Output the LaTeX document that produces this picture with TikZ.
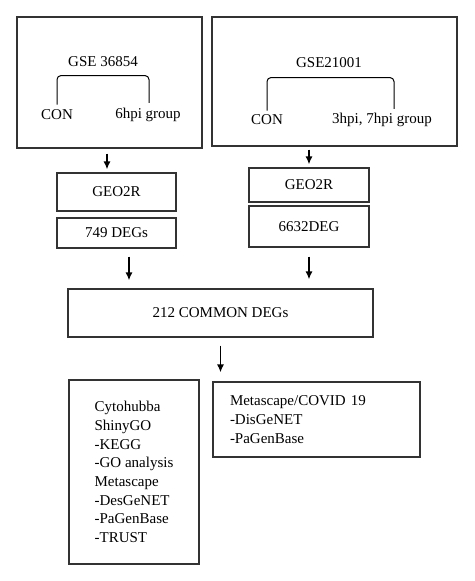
\documentclass[tikz,border=0pt]{standalone}
\usepackage{fontspec}
\setmainfont{Liberation Serif}
\usetikzlibrary{arrows.meta,positioning,calc}

\begin{document}
\begin{tikzpicture}[x=1pt, y=-1pt, thick,
    box/.style={draw=black!80, line width=1.2pt, inner sep=0pt},
    lbl/.style={inner sep=2pt, font=\fontsize{15}{18.7}\selectfont},
    arr/.style={-{Latex[length=8pt,width=7pt]}, line width=1.4pt}]
    \useasboundingbox (0,0) rectangle (474,581);

    % Dataset boxes
    \node[box, minimum width=185pt, minimum height=131pt] (set1) at (109.5,82.5) {};
    \node[box, minimum width=245pt, minimum height=129pt] (set2) at (334.5,81.5) {};
    \node[lbl] (gse1) at (103,62) {GSE 36854};
    \node[lbl] (con1) at (57,115) {CON};
    \node[lbl] (grp1) at (148,115) {6hpi group};
    \node[lbl] (gse2) at (329,63) {GSE21001};
    \node[lbl] (con2) at (267,120) {CON};
    \node[lbl] (grp2) at (382,120) {3hpi, 7hpi group};

    % Brackets
    \draw[line width=1pt, rounded corners=4pt] ([yshift=3pt]con1.north) -- ++(0,-29) -| ([xshift=1pt, yshift=3pt]grp1.north);
    \draw[line width=1pt, rounded corners=4pt] ([yshift=2pt]con2.north) -- ++(0,-33) -| ([xshift=12pt, yshift=2pt]grp2.north);

    % GEO2R and DEG boxes
    \node[box, lbl, minimum width=119pt, minimum height=38pt] (geo1) at (116.5,192) {GEO2R};
    \node[box, lbl, minimum width=119pt, minimum height=30pt] (deg1) at (116.5,233) {749 DEGs};
    \node[box, lbl, minimum width=120pt, minimum height=34pt] (geo2) at (309,185) {GEO2R};
    \node[box, lbl, minimum width=120pt, minimum height=41pt] (deg2) at (309,226.5) {6632DEG};

    % Common box
    \node[box, lbl, minimum width=305pt, minimum height=48pt] (common) at (220.5,313) {212 COMMON DEGs};

    % Result boxes
    \node[box, lbl, minimum width=130pt, minimum height=184pt, align=left] (res1) at (134,472)
        {Cytohubba\\ShinyGO\\-KEGG\\-GO analysis\\Metascape\\-DesGeNET\\-PaGenBase\\-TRUST};
    \node[box, lbl, minimum width=207pt, minimum height=75pt, inner xsep=17pt, text width=173pt, align=left] (res2) at (316.5,419.5)
        {Metascape/COVID 19\\-DisGeNET\\-PaGenBase};

    % Arrows
    \draw[arr, shorten <=5pt, shorten >=3pt] ([xshift=-2.5pt]set1.south) -- ([xshift=-2.5pt]set1.south |- geo1.north);
    \draw[arr, shorten <=3pt, shorten >=3pt] (geo2.north |- set2.south) -- (geo2.north);
    \draw[arr, shorten <=8pt, shorten >=8pt] ([xshift=12.5pt]deg1.south) -- ([xshift=12.5pt]deg1.south |- common.north);
    \draw[arr, shorten <=9pt, shorten >=9pt] (deg2.south) -- (deg2.south |- common.north);
    \draw[arr, shorten <=8pt, shorten >=9pt] (common.south) -- (common.south |- res2.north);
\end{tikzpicture}
\end{document}
